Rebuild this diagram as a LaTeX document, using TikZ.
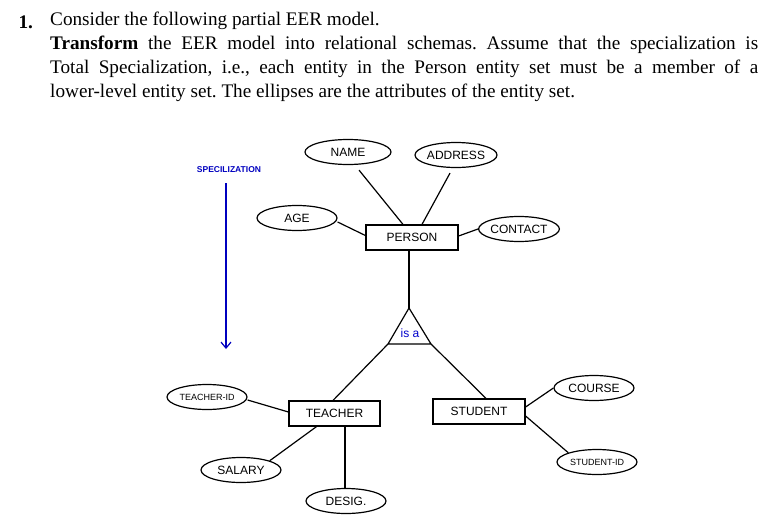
\documentclass[tikz,border=0pt]{standalone}
\usetikzlibrary{shapes.geometric,arrows.meta}
\usepackage{fontspec}
\setmainfont{Liberation Serif}
\newfontfamily\arial{Liberation Sans}
\begin{document}
\begin{tikzpicture}[x=1pt,y=-1pt,
  ent/.style={draw,line width=1.2pt,minimum width=92pt,minimum height=25pt,font=\arial\fontsize{12}{14}\selectfont,inner sep=0pt},
  att/.style={draw,ellipse,line width=1.2pt,minimum width=80pt,minimum height=25pt,inner sep=0pt,font=\arial\fontsize{12}{14}\selectfont},
  small/.style={font=\arial\fontsize{9}{10}\selectfont},
  ln/.style={line width=1.2pt}]
\useasboundingbox (0,0) rectangle (768,522);
\node[anchor=base west,font=\bfseries\fontsize{19.2}{24}\selectfont] (num) at (15,28) {1.};
\node[anchor=north west,inner sep=0pt,text width=708pt,align=justify,font=\fontsize{19.2}{24}\selectfont] (txt) at (50,12)
{\frenchspacing Consider the following partial EER model.\\
\textbf{Transform} the EER model into relational schemas. Assume that the specialization is\linebreak Total Specialization, i.e., each entity in the Person entity set must be a member of a\linebreak lower-level entity set. The ellipses are the attributes of the entity set.};

\node[att,minimum width=86pt] (name) at (348,152) {NAME};
\node[att] (addr) at (456,155) {ADDRESS};
\node[att] (age) at (297,218) {AGE};
\node[att] (contact) at (519,229) {CONTACT};
\node[ent] (person) at (412,237.5) {PERSON};
\coordinate (apex) at (409,308);
\coordinate (bl) at (388,344);
\coordinate (br) at (431,344);
\draw[ln] (apex) -- (bl) -- (br) -- cycle;
\node[text=blue!80!black,font=\arial\fontsize{12}{14}\selectfont] (isa) at (410,333) {is a};
\node[ent,minimum width=91pt] (teacher) at (334.5,413.5) {TEACHER};
\node[ent] (student) at (479,411.5) {STUDENT};
\node[att,small] (tid) at (207,397) {TEACHER-ID};
\node[att] (salary) at (241,470) {SALARY};
\node[att] (desig) at (346,501) {DESIG.};
\node[att] (course) at (594,388) {COURSE};
\node[att,small] (sid) at (597,462) {STUDENT-ID};
\node[text=blue!75!black,font=\arial\bfseries\fontsize{8.5}{10}\selectfont] (spec) at (229,170) {SPECILIZATION};
\coordinate (arrtop) at (226,183);
\coordinate (arrend) at (226,349);
\coordinate (dtop) at (345,426);

\draw[ln] (name.south) ++(11,5) -- ([xshift=-9pt]person.north);
\draw[ln] (addr.south) ++(-6,5) -- ([xshift=10pt]person.north);
\draw[ln] (age.east) ++(0,4) -- ([yshift=2pt]person.west);
\draw[ln] (contact.west) -- ([yshift=1.5pt]person.east);
\draw[ln] ([xshift=-3pt]person.south) -- (apex);
\draw[ln] (bl) -- ([xshift=-1.5pt]teacher.north);
\draw[ln] (br) -- ([xshift=7pt]student.north);
\draw[ln] (tid.east) ++(0,3) -- ([yshift=1.5pt]teacher.west);
\draw[ln] (salary.north east) -- ([xshift=-18pt]teacher.south);
\draw[ln] (dtop) -- (desig.north -| dtop);
\draw[ln] ([yshift=4.5pt]student.east) -- (course.west);
\draw[ln] ([yshift=-4.5pt]student.east) -- (sid.north west);
\draw[line width=1.2pt,blue!75!black,-{Straight Barb[length=6pt,width=10pt]}] (arrtop) -- (arrend);
\end{tikzpicture}
\end{document}
